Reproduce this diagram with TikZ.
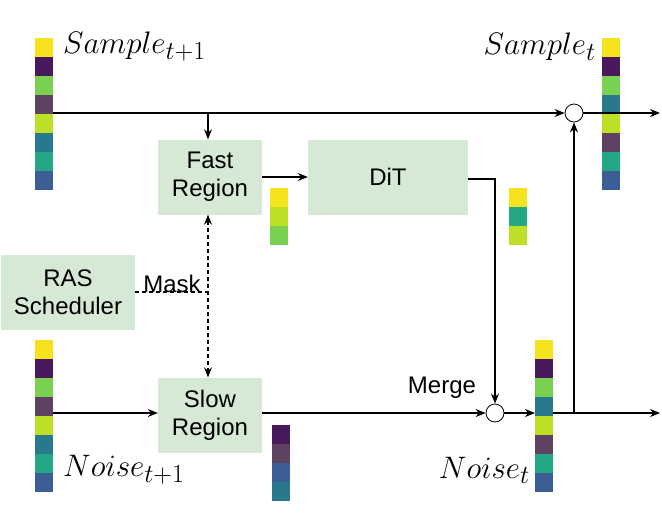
\documentclass[tikz,border=0pt]{standalone}
\usepackage{fontspec}
\setsansfont{Liberation Sans}
\usepackage{graphicx}
\usetikzlibrary{arrows.meta}
\definecolor{cY}{HTML}{F6E31F}
\definecolor{cP}{HTML}{481A5C}
\definecolor{cG}{HTML}{7AD151}
\definecolor{cM}{HTML}{5E4262}
\definecolor{cL}{HTML}{BDDF26}
\definecolor{cT}{HTML}{2A788E}
\definecolor{cN}{HTML}{22A884}
\definecolor{cB}{HTML}{3B5F95}
\definecolor{boxg}{HTML}{D6E9D5}
\newcommand{\vstack}[3]{% x, ytop, list
  \foreach \c [count=\i from 0] in {#3} {
    \fill[\c] (#1,#2+\i*19) rectangle (#1+18,#2+\i*19+19);
  }}
\newcommand{\biglbl}[1]{\scalebox{1.25}{$#1$}}
\begin{document}
\begin{tikzpicture}[x=1pt,y=-1pt,
  box/.style={fill=boxg,draw=none,font=\sffamily\fontsize{24}{28}\selectfont,align=center,inner sep=0},
  arr/.style={-{Stealth[length=10,width=8]},line width=1.1},
  dsh/.style={dash pattern=on 4pt off 3pt,line width=1.1},
  lbl/.style={font=\fontsize{24.88}{30}\selectfont,inner sep=0}]
\useasboundingbox (0,0) rectangle (662,523);
\vstack{35}{38}{cY,cP,cG,cM,cL,cT,cN,cB}
\vstack{602}{38}{cY,cP,cG,cT,cL,cM,cN,cB}
\vstack{35}{340}{cY,cP,cG,cM,cL,cT,cN,cB}
\vstack{535}{340}{cY,cP,cG,cT,cL,cM,cN,cB}
\vstack{270}{188}{cY,cL,cG}
\vstack{509}{188}{cY,cN,cL}
\vstack{272}{425}{cP,cM,cB,cT}
\node[lbl,anchor=west] (s1) at (63,47) {\biglbl{Sample_{t+1}}};
\node[lbl,anchor=east] (s0) at (596,47) {\biglbl{Sample_{t}}};
\node[lbl,anchor=west] (n1) at (63,470) {\biglbl{Noise_{t+1}}};
\node[lbl,anchor=east] (n0) at (530,470) {\biglbl{Noise_{t}}};
\node[box,minimum width=104,minimum height=75] (fast) at (210,177) {Fast\\Region};
\node[box,minimum width=160,minimum height=75] (dit) at (388,177) {DiT};
\node[box,minimum width=134,minimum height=75] (ras) at (68,292) {RAS\\Scheduler};
\node[box,minimum width=104,minimum height=75] (slow) at (210,415) {Slow\\Region};
\node[draw,circle,minimum size=18,inner sep=0,line width=0.8] (c1) at (574,113) {};
\node[draw,circle,minimum size=18,inner sep=0,line width=0.8] (c2) at (495,413) {};
\coordinate (a0) at (53,113);
\coordinate (a1) at (660,113);
\coordinate (b0) at (53,413);
\coordinate (b1) at (660,413);
\coordinate (tf) at (208,113);
\coordinate (md) at (208,292);
\coordinate (dr) at (495,179);
\coordinate (vb) at (574,413);
\draw[arr] (a0) -- (c1);
\draw[arr] (c1) -- (a1);
\draw[arr] (tf) -- (fast.north -| tf);
\draw[arr] (fast.east |- dit.west) -- (dit.west);
\draw[arr] (dit.east |- dr) -- (dr) -- (c2);
\draw[arr] (b0) -- (slow.west |- b0);
\draw[arr] (slow.east |- b0) -- (c2);
\draw[arr] (c2) -- (535,413);
\draw[line width=1.1] (553,413) -- (vb);
\draw[arr] (vb) -- (c1);
\draw[arr] (vb) -- (b1);
\draw[dsh] (ras.east) -- (md);
\draw[dsh,{Stealth[length=10,width=8]}-{Stealth[length=10,width=8]}] (fast.south -| md) -- (slow.north -| md);
\node[font=\sffamily\fontsize{24}{28}\selectfont,anchor=south,inner sep=1] (mask) at (172,294) {Mask};
\node[font=\sffamily\fontsize{24}{28}\selectfont,anchor=south,inner sep=1] (merge) at (442,400) {Merge};
\end{tikzpicture}
\end{document}
